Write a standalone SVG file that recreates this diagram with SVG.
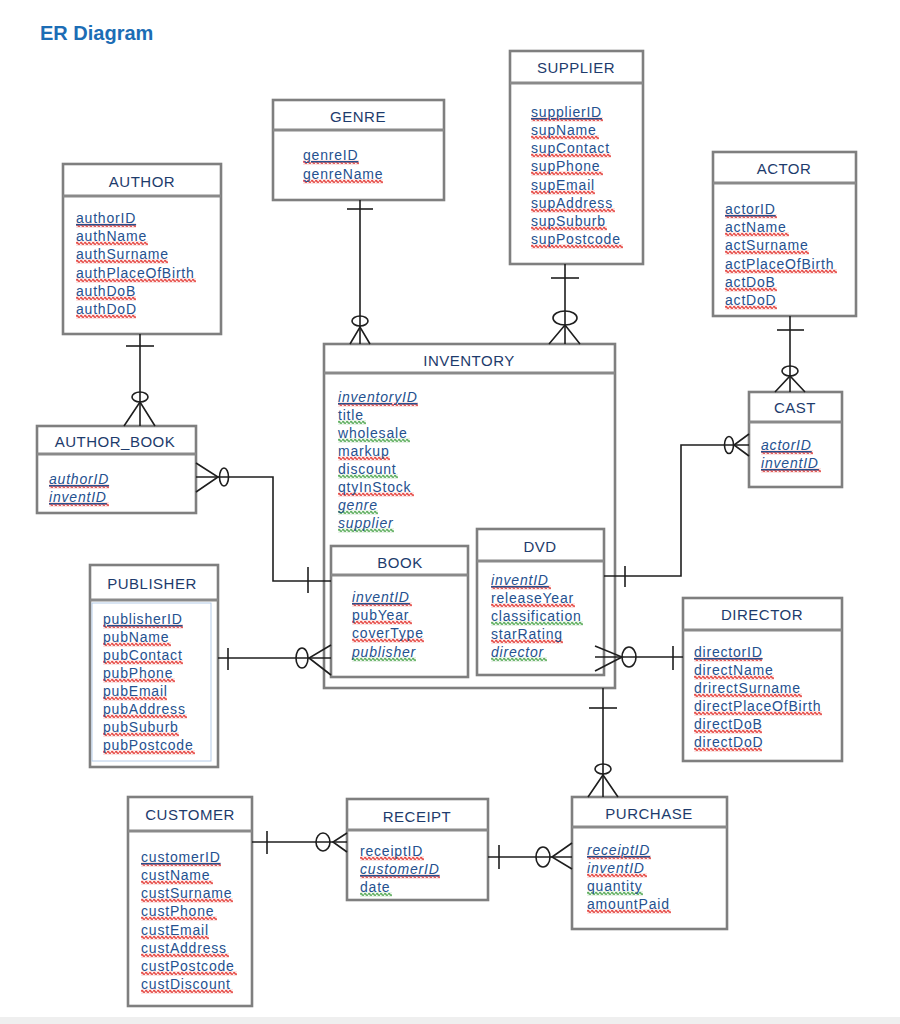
<svg xmlns="http://www.w3.org/2000/svg" width="900" height="1024" viewBox="0 0 900 1024">
<style>
.box{fill:#fff;stroke:#7f7f7f;stroke-width:2.6}
.hd{stroke:#8a8a8a;stroke-width:3}
.t{font-family:"Liberation Sans",Arial,sans-serif;font-size:15px;fill:#1d3b6c;text-anchor:middle;letter-spacing:0.5px}
.a{font-family:"Liberation Sans",Arial,sans-serif;font-size:14px;fill:#25518f;letter-spacing:0.8px}
.i{font-style:italic}
.k{text-decoration:underline}
.wr{fill:url(#wr)}
.wg{fill:url(#wg)}
.c{fill:none;stroke:#1e1e1e;stroke-width:1.6}
</style>
<defs>
<pattern id="wr" patternUnits="userSpaceOnUse" width="4" height="4"><path d="M0,2 Q1,0 2,2 T4,2" fill="none" stroke="#e0201a" stroke-width="1.4"/></pattern>
<pattern id="wg" patternUnits="userSpaceOnUse" width="4" height="4"><path d="M0,2 Q1,0 2,2 T4,2" fill="none" stroke="#3a9c3a" stroke-width="1.4"/></pattern>
</defs>
<rect x="0" y="0" width="900" height="1024" fill="#fff"/>
<rect x="0" y="1017" width="900" height="7" fill="#efefef"/>
<text x="40" y="40" font-family="Liberation Sans,Arial,sans-serif" font-size="20" font-weight="bold" fill="#1c6db5">ER Diagram</text>

<g id="genre">
<rect class="box" x="273" y="100" width="171" height="100"/>
<line class="hd" x1="273" y1="130" x2="444" y2="130"/>
<text class="t" x="358" y="122">GENRE</text>
<rect class="wr" transform="translate(303,160.5)" width="56" height="4"/>
<text class="a k" x="303" y="160">genreID</text>
<rect class="wr" transform="translate(303,179.5)" width="80" height="4"/>
<text class="a" x="303" y="179">genreName</text>
</g>

<g id="author">
<rect class="box" x="63" y="164" width="158" height="170"/>
<line class="hd" x1="63" y1="196" x2="221" y2="196"/>
<text class="t" x="142" y="187">AUTHOR</text>
<rect class="wr" transform="translate(76,223.5)" width="60" height="4"/>
<text class="a k" x="76" y="223">authorID</text>
<rect class="wr" transform="translate(76,241.5)" width="72" height="4"/>
<text class="a" x="76" y="241">authName</text>
<rect class="wr" transform="translate(76,259.5)" width="92" height="4"/>
<text class="a" x="76" y="259">authSurname</text>
<rect class="wr" transform="translate(76,278.5)" width="120" height="4"/>
<text class="a" x="76" y="278">authPlaceOfBirth</text>
<rect class="wr" transform="translate(76,296.5)" width="60" height="4"/>
<text class="a" x="76" y="296">authDoB</text>
<rect class="wr" transform="translate(76,314.5)" width="60" height="4"/>
<text class="a" x="76" y="314">authDoD</text>
</g>

<g id="supplier">
<rect class="box" x="510" y="51" width="133" height="213"/>
<line class="hd" x1="510" y1="83" x2="643" y2="83"/>
<text class="t" x="576" y="73">SUPPLIER</text>
<rect class="wr" transform="translate(531,117.5)" width="72" height="4"/>
<text class="a k" x="531" y="117">supplierID</text>
<rect class="wr" transform="translate(531,135.5)" width="68" height="4"/>
<text class="a" x="531" y="135">supName</text>
<rect class="wr" transform="translate(531,153.5)" width="80" height="4"/>
<text class="a" x="531" y="153">supContact</text>
<rect class="wr" transform="translate(531,171.5)" width="72" height="4"/>
<text class="a" x="531" y="171">supPhone</text>
<rect class="wr" transform="translate(531,190.5)" width="64" height="4"/>
<text class="a" x="531" y="190">supEmail</text>
<rect class="wr" transform="translate(531,208.5)" width="84" height="4"/>
<text class="a" x="531" y="208">supAddress</text>
<rect class="wr" transform="translate(531,226.5)" width="76" height="4"/>
<text class="a" x="531" y="226">supSuburb</text>
<rect class="wr" transform="translate(531,244.5)" width="92" height="4"/>
<text class="a" x="531" y="244">supPostcode</text>
</g>

<g id="actor">
<rect class="box" x="713" y="152" width="143" height="164"/>
<line class="hd" x1="713" y1="183" x2="856" y2="183"/>
<text class="t" x="784" y="174">ACTOR</text>
<rect class="wr" transform="translate(725,214.5)" width="52" height="4"/>
<text class="a k" x="725" y="214">actorID</text>
<rect class="wr" transform="translate(725,232.5)" width="64" height="4"/>
<text class="a" x="725" y="232">actName</text>
<rect class="wr" transform="translate(725,250.5)" width="84" height="4"/>
<text class="a" x="725" y="250">actSurname</text>
<rect class="wr" transform="translate(725,269.5)" width="112" height="4"/>
<text class="a" x="725" y="269">actPlaceOfBirth</text>
<rect class="wr" transform="translate(725,287.5)" width="52" height="4"/>
<text class="a" x="725" y="287">actDoB</text>
<rect class="wr" transform="translate(725,305.5)" width="52" height="4"/>
<text class="a" x="725" y="305">actDoD</text>
</g>

<g id="inventory">
<rect class="box" x="324" y="344" width="291" height="344"/>
<line class="hd" x1="324" y1="373" x2="615" y2="373"/>
<text class="t" x="469" y="366">INVENTORY</text>
<rect class="wr" transform="translate(338,402.5)" width="80" height="4"/>
<text class="a i k" x="338" y="402">inventoryID</text>
<rect class="wg" transform="translate(338,420.5)" width="28" height="4"/>
<text class="a" x="338" y="420">title</text>
<rect class="wg" transform="translate(338,438.5)" width="72" height="4"/>
<text class="a" x="338" y="438">wholesale</text>
<rect class="wr" transform="translate(338,456.5)" width="52" height="4"/>
<text class="a" x="338" y="456">markup</text>
<rect class="wg" transform="translate(338,474.5)" width="60" height="4"/>
<text class="a" x="338" y="474">discount</text>
<rect class="wr" transform="translate(338,492.5)" width="76" height="4"/>
<text class="a" x="338" y="492">qtyInStock</text>
<rect class="wg" transform="translate(338,510.5)" width="40" height="4"/>
<text class="a i" x="338" y="510">genre</text>
<rect class="wg" transform="translate(338,528.5)" width="56" height="4"/>
<text class="a i" x="338" y="528">supplier</text>
</g>

<g id="book">
<rect class="box" x="331" y="546" width="137" height="131"/>
<line class="hd" x1="331" y1="575" x2="468" y2="575"/>
<text class="t" x="400" y="568">BOOK</text>
<rect class="wr" transform="translate(352,602.5)" width="60" height="4"/>
<text class="a i k" x="352" y="602">inventID</text>
<rect class="wr" transform="translate(352,620.5)" width="60" height="4"/>
<text class="a" x="352" y="620">pubYear</text>
<rect class="wr" transform="translate(352,638.5)" width="72" height="4"/>
<text class="a" x="352" y="638">coverType</text>
<rect class="wg" transform="translate(352,657.5)" width="64" height="4"/>
<text class="a i" x="352" y="657">publisher</text>
</g>

<g id="dvd">
<rect class="box" x="477" y="529" width="127" height="146"/>
<line class="hd" x1="477" y1="561" x2="604" y2="561"/>
<text class="t" x="540" y="552">DVD</text>
<rect class="wr" transform="translate(491,585.5)" width="60" height="4"/>
<text class="a i k" x="491" y="585">inventID</text>
<rect class="wr" transform="translate(491,603.5)" width="84" height="4"/>
<text class="a" x="491" y="603">releaseYear</text>
<rect class="wg" transform="translate(491,621.5)" width="92" height="4"/>
<text class="a" x="491" y="621">classification</text>
<rect class="wr" transform="translate(491,639.5)" width="72" height="4"/>
<text class="a" x="491" y="639">starRating</text>
<rect class="wg" transform="translate(491,657.5)" width="56" height="4"/>
<text class="a i" x="491" y="657">director</text>
</g>

<g id="cast">
<rect class="box" x="749" y="392" width="93" height="95"/>
<line class="hd" x1="749" y1="422" x2="842" y2="422"/>
<text class="t" x="795" y="413">CAST</text>
<rect class="wr" transform="translate(761,450.5)" width="52" height="4"/>
<text class="a i k" x="761" y="450">actorID</text>
<rect class="wr" transform="translate(761,468.5)" width="60" height="4"/>
<text class="a i k" x="761" y="468">inventID</text>
</g>

<g id="author_book">
<rect class="box" x="37" y="426" width="159" height="87"/>
<line class="hd" x1="37" y1="454" x2="196" y2="454"/>
<text class="t" x="115" y="447">AUTHOR_BOOK</text>
<rect class="wr" transform="translate(49,484.5)" width="60" height="4"/>
<text class="a i k" x="49" y="484">authorID</text>
<rect class="wr" transform="translate(49,502.5)" width="60" height="4"/>
<text class="a i k" x="49" y="502">inventID</text>
</g>

<g id="publisher">
<rect class="box" x="90" y="565" width="128" height="202"/>
<line class="hd" x1="90" y1="600" x2="218" y2="600"/>
<rect x="92" y="603" width="119" height="158" fill="none" stroke="#b4cbe8" stroke-width="1"/>
<text class="t" x="152" y="589">PUBLISHER</text>
<rect class="wr" transform="translate(103,624.5)" width="80" height="4"/>
<text class="a k" x="103" y="624">publisherID</text>
<rect class="wr" transform="translate(103,642.5)" width="68" height="4"/>
<text class="a" x="103" y="642">pubName</text>
<rect class="wr" transform="translate(103,660.5)" width="80" height="4"/>
<text class="a" x="103" y="660">pubContact</text>
<rect class="wr" transform="translate(103,678.5)" width="72" height="4"/>
<text class="a" x="103" y="678">pubPhone</text>
<rect class="wr" transform="translate(103,696.5)" width="64" height="4"/>
<text class="a" x="103" y="696">pubEmail</text>
<rect class="wr" transform="translate(103,714.5)" width="84" height="4"/>
<text class="a" x="103" y="714">pubAddress</text>
<rect class="wr" transform="translate(103,732.5)" width="76" height="4"/>
<text class="a" x="103" y="732">pubSuburb</text>
<rect class="wr" transform="translate(103,750.5)" width="92" height="4"/>
<text class="a" x="103" y="750">pubPostcode</text>
</g>

<g id="director">
<rect class="box" x="683" y="598" width="159" height="163"/>
<line class="hd" x1="683" y1="630" x2="842" y2="630"/>
<text class="t" x="762" y="620">DIRECTOR</text>
<rect class="wr" transform="translate(694,657.5)" width="68" height="4"/>
<text class="a k" x="694" y="657">directorID</text>
<rect class="wr" transform="translate(694,675.5)" width="80" height="4"/>
<text class="a" x="694" y="675">directName</text>
<rect class="wr" transform="translate(694,693.5)" width="108" height="4"/>
<text class="a" x="694" y="693">drirectSurname</text>
<rect class="wr" transform="translate(694,711.5)" width="128" height="4"/>
<text class="a" x="694" y="711">directPlaceOfBirth</text>
<rect class="wr" transform="translate(694,729.5)" width="68" height="4"/>
<text class="a" x="694" y="729">directDoB</text>
<rect class="wr" transform="translate(694,747.5)" width="68" height="4"/>
<text class="a" x="694" y="747">directDoD</text>
</g>

<g id="customer">
<rect class="box" x="128" y="797" width="124" height="209"/>
<line class="hd" x1="128" y1="831" x2="252" y2="831"/>
<text class="t" x="190" y="820">CUSTOMER</text>
<rect class="wr" transform="translate(141,862.5)" width="80" height="4"/>
<text class="a k" x="141" y="862">customerID</text>
<rect class="wr" transform="translate(141,880.5)" width="72" height="4"/>
<text class="a" x="141" y="880">custName</text>
<rect class="wr" transform="translate(141,898.5)" width="92" height="4"/>
<text class="a" x="141" y="898">custSurname</text>
<rect class="wr" transform="translate(141,916.5)" width="76" height="4"/>
<text class="a" x="141" y="916">custPhone</text>
<rect class="wr" transform="translate(141,935.5)" width="68" height="4"/>
<text class="a" x="141" y="935">custEmail</text>
<rect class="wr" transform="translate(141,953.5)" width="88" height="4"/>
<text class="a" x="141" y="953">custAddress</text>
<rect class="wr" transform="translate(141,971.5)" width="96" height="4"/>
<text class="a" x="141" y="971">custPostcode</text>
<rect class="wr" transform="translate(141,989.5)" width="92" height="4"/>
<text class="a" x="141" y="989">custDiscount</text>
</g>

<g id="receipt">
<rect class="box" x="347" y="799" width="141" height="101"/>
<line class="hd" x1="347" y1="830" x2="488" y2="830"/>
<text class="t" x="417" y="822">RECEIPT</text>
<rect class="wr" transform="translate(360,856.5)" width="64" height="4"/>
<text class="a" x="360" y="856">receiptID</text>
<rect class="wr" transform="translate(360,874.5)" width="80" height="4"/>
<text class="a i k" x="360" y="874">customerID</text>
<rect class="wg" transform="translate(360,892.5)" width="32" height="4"/>
<text class="a" x="360" y="892">date</text>
</g>

<g id="purchase">
<rect class="box" x="572" y="797" width="155" height="132"/>
<line class="hd" x1="572" y1="827" x2="727" y2="827"/>
<text class="t" x="649" y="819">PURCHASE</text>
<rect class="wr" transform="translate(587,855.5)" width="64" height="4"/>
<text class="a i k" x="587" y="855">receiptID</text>
<rect class="wr" transform="translate(587,873.5)" width="60" height="4"/>
<text class="a i" x="587" y="873">inventID</text>
<rect class="wg" transform="translate(587,891.5)" width="56" height="4"/>
<text class="a" x="587" y="891">quantity</text>
<rect class="wr" transform="translate(587,909.5)" width="84" height="4"/>
<text class="a" x="587" y="909">amountPaid</text>
</g>

<g id="connectors">
<!-- GENRE - INVENTORY -->
<line class="c" x1="360" y1="200" x2="360" y2="344"/>
<line class="c" x1="347" y1="209" x2="373" y2="209"/>
<ellipse class="c" cx="360" cy="321" rx="8" ry="5"/>
<path class="c" d="M350,344 L360,327 L370,344"/>
<!-- SUPPLIER - INVENTORY -->
<line class="c" x1="565" y1="264" x2="565" y2="344"/>
<line class="c" x1="551" y1="278" x2="579" y2="278"/>
<ellipse class="c" cx="565" cy="318" rx="12" ry="7"/>
<path class="c" d="M549,344 L565,325 L580,344"/>
<!-- AUTHOR - AUTHOR_BOOK -->
<line class="c" x1="140" y1="334" x2="140" y2="426"/>
<line class="c" x1="126" y1="346" x2="154" y2="346"/>
<ellipse class="c" cx="140" cy="397" rx="8" ry="5"/>
<path class="c" d="M124,426 L140,402 L155,426"/>
<!-- AUTHOR_BOOK - BOOK -->
<path class="c" d="M196,477 H273 V581 H331"/>
<path class="c" d="M196,463 L218,477 L196,492"/>
<ellipse class="c" cx="224" cy="477" rx="4.5" ry="9"/>
<line class="c" x1="308" y1="567" x2="308" y2="593"/>
<!-- ACTOR - CAST -->
<line class="c" x1="790" y1="316" x2="790" y2="392"/>
<line class="c" x1="777" y1="330" x2="804" y2="330"/>
<ellipse class="c" cx="790" cy="371" rx="8" ry="5"/>
<path class="c" d="M775,392 L790,376 L805,392"/>
<!-- CAST - DVD -->
<path class="c" d="M749,445 H681 V576 H604"/>
<path class="c" d="M749,434 L734,445 L749,456"/>
<ellipse class="c" cx="729" cy="445" rx="4.5" ry="8.5"/>
<line class="c" x1="625" y1="566" x2="625" y2="587"/>
<!-- PUBLISHER - BOOK -->
<line class="c" x1="218" y1="658" x2="331" y2="658"/>
<line class="c" x1="228" y1="648" x2="228" y2="670"/>
<ellipse class="c" cx="302" cy="658" rx="6" ry="10"/>
<path class="c" d="M331,645 L309,658 L331,675"/>
<!-- DVD - DIRECTOR -->
<line class="c" x1="595" y1="657" x2="683" y2="657"/>
<path class="c" d="M595,646 L622,657 L595,671"/>
<ellipse class="c" cx="629" cy="657" rx="7" ry="10"/>
<line class="c" x1="673" y1="646" x2="673" y2="670"/>
<!-- INVENTORY - PURCHASE -->
<line class="c" x1="603" y1="688" x2="603" y2="797"/>
<line class="c" x1="589" y1="708" x2="617" y2="708"/>
<ellipse class="c" cx="603" cy="769" rx="8" ry="5"/>
<path class="c" d="M588,797 L603,775 L618,797"/>
<!-- RECEIPT - PURCHASE -->
<line class="c" x1="488" y1="857" x2="572" y2="857"/>
<line class="c" x1="499" y1="845" x2="499" y2="869"/>
<ellipse class="c" cx="543" cy="857" rx="7" ry="10"/>
<path class="c" d="M572,843 L552,857 L572,869"/>
<!-- CUSTOMER - RECEIPT -->
<line class="c" x1="252" y1="842" x2="347" y2="842"/>
<line class="c" x1="267" y1="831" x2="267" y2="854"/>
<ellipse class="c" cx="323" cy="842" rx="7" ry="9"/>
<path class="c" d="M347,833 L333,842 L347,852"/>
</g>
</svg>
